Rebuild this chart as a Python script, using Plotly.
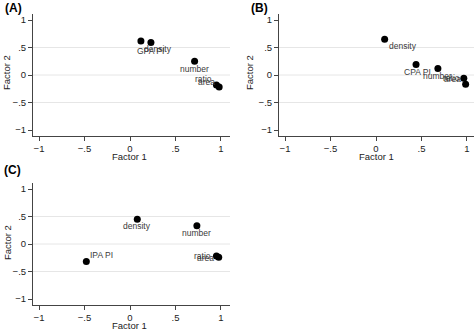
import plotly.graph_objects as go

# ---- data ----
A_names = ["density", "GPA PI", "number", "ratio", "area"]
A_f1 = [0.12, 0.23, 0.71, 0.95, 0.98]
A_f2 = [0.62, 0.59, 0.25, -0.18, -0.22]

B_names = ["density", "CPA PI", "number", "ratio", "area"]
B_f1 = [0.095, 0.44, 0.68, 0.965, 0.985]
B_f2 = [0.65, 0.19, 0.12, -0.06, -0.17]

C_names = ["density", "IPA PI", "number", "ratio", "area"]
C_f1 = [0.08, -0.48, 0.735, 0.95, 0.975]
C_f2 = [0.45, -0.32, 0.33, -0.22, -0.24]

tick_vals = [-1, -0.5, 0, 0.5, 1]
tick_text = ["\u22121", "\u2212.5", "0", ".5", "1"]
panel_titles = ["(A)", "(B)", "(C)"]
x_title = "Factor 1"
y_title = "Factor 2"

# ---- style ----
W, H = 474, 332
FONT = "Liberation Sans, Arial, Helvetica, sans-serif"
# label placement per point: (xanchor, xshift px, yshift px; positive = up)
A_lab = [("left", 1, -8), ("center", 0, -8), ("center", 0, -8),
         ("right", -2, 6), ("right", -2, 5)]
B_lab = [("left", 2, -7), ("center", 1, -7), ("center", 0, -8),
         ("right", -2, 0), ("right", -3, 5)]
C_lab = [("center", 0, -7), ("left", 2, 7), ("center", 0, -7.5),
         ("right", -3, 0), ("right", -3, -1)]

fig = go.Figure()
annotations = []
panels = [
    (A_f1, A_f2, A_names, A_lab, "x", "y"),
    (B_f1, B_f2, B_names, B_lab, "x2", "y2"),
    (C_f1, C_f2, C_names, C_lab, "x3", "y3"),
]
for f1, f2, names, labs, xa, ya in panels:
    fig.add_trace(go.Scatter(
        x=f1, y=f2, mode="markers", cliponaxis=False,
        marker=dict(color="black", size=7),
        xaxis=xa, yaxis=ya, showlegend=False, hoverinfo="skip",
    ))
    for xv, yv, name, (anc, dx, dy) in zip(f1, f2, names, labs):
        annotations.append(dict(
            text=name, x=xv, y=yv, xref=xa, yref=ya, showarrow=False,
            xanchor=anc, yanchor="middle", xshift=dx, yshift=dy,
            font=dict(family=FONT, size=8.5, color="#3a3a3a"),
        ))

# pixel geometry of the three plot regions: (left, right, top, bottom)
regions = {
    "": (33, 230, 14, 136),
    "2": (279, 474, 14, 136),
    "3": (33, 230, 183, 305),
}
xranges = {"": [-1.066, 1.099], "2": [-1.066, 1.077], "3": [-1.066, 1.099]}
yrange = [-1.109, 1.109]

axis_common = dict(
    tickvals=tick_vals, ticktext=tick_text, ticks="outside", ticklen=4,
    tickcolor="#444", showline=True, linecolor="#444", linewidth=1,
    tickfont=dict(family=FONT, size=9.5, color="#222"), zeroline=False,
)
layout = {}
for k, (l, r, t, b) in regions.items():
    xa = dict(axis_common)
    xa.update(domain=[l / W, r / W], range=xranges[k], showgrid=False,
              anchor="y" + k)
    ya = dict(axis_common)
    ya.update(domain=[1 - b / H, 1 - t / H], range=yrange, showgrid=False,
              anchor="x" + k, tickangle=0)
    layout["xaxis" + k] = xa
    layout["yaxis" + k] = ya

# light gridlines at interior y ticks
shapes = []
for k in regions:
    for v in tick_vals[1:-1]:
        shapes.append(dict(type="line", xref="x" + k + " domain", yref="y" + k,
                           x0=0, x1=1, y0=v, y1=v,
                           line=dict(color="#e6e6e6", width=1), layer="below"))

title_pos = [(13, 8.5), (259.5, 8.5), (12.5, 169.5)]
for txt, (px, py) in zip(panel_titles, title_pos):
    annotations.append(dict(text="<b>" + txt + "</b>", x=px / W, y=1 - py / H,
                            xref="paper", yref="paper", showarrow=False,
                            font=dict(family=FONT, size=12, color="black"),
                            xanchor="center", yanchor="middle"))
xt_pos = [(129.7, 156), (376, 156), (129.7, 325)]
yt_pos = [(7, 73), (250, 73), (7, 243)]
for (px, py) in xt_pos:
    annotations.append(dict(text=x_title, x=px / W, y=1 - py / H, xref="paper",
                            yref="paper", showarrow=False,
                            font=dict(family=FONT, size=9.5, color="#222"),
                            xanchor="center", yanchor="middle"))
for (px, py) in yt_pos:
    annotations.append(dict(text=y_title, x=px / W, y=1 - py / H, xref="paper",
                            yref="paper", showarrow=False, textangle=-90,
                            font=dict(family=FONT, size=9.5, color="#222"),
                            xanchor="center", yanchor="middle"))

fig.update_layout(
    width=W, height=H, margin=dict(l=0, r=0, t=0, b=0),
    paper_bgcolor="white", plot_bgcolor="white",
    shapes=shapes, annotations=annotations, **layout,
)
fig.write_html("out.html")
